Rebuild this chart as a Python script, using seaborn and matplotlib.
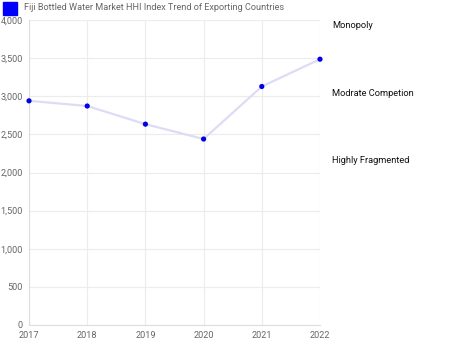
import matplotlib
matplotlib.use("Agg")
import matplotlib.pyplot as plt
import seaborn as sns
import pandas as pd
from matplotlib.ticker import FuncFormatter, MultipleLocator

years = [2017, 2018, 2019, 2020, 2021, 2022]
hhi = [2940, 2872, 2634, 2439, 3128, 3486]
zones = ["Monopoly", "Modrate Competion", "Highly Fragmented"]
title = "Fiji Bottled Water Market HHI Index Trend of Exporting Countries"

df = pd.DataFrame({"year": years, "hhi": hhi})

sns.set_theme(style="white")
plt.rcParams["font.family"] = ["Roboto", "DejaVu Sans"]

fig = plt.figure(figsize=(4.74, 3.45), dpi=100)
ax = fig.add_axes([29 / 474, 20 / 345, 291 / 474, 305 / 345])

sns.lineplot(data=df, x="year", y="hhi", ax=ax, color="#dcdcf6", linewidth=1.6,
             zorder=2)
sns.scatterplot(data=df, x="year", y="hhi", ax=ax, color="#0000e6", s=14,
                edgecolor="none", zorder=3, clip_on=False)

ax.set_xlim(2017, 2022)
ax.set_ylim(0, 4000)
ax.yaxis.set_major_locator(MultipleLocator(500))
ax.yaxis.set_major_formatter(FuncFormatter(lambda v, p: f"{int(v):,}"))
ax.set_xticks(years)
ax.set_xlabel("")
ax.set_ylabel("")
ax.grid(True, color="#ececec", linewidth=0.8)
ax.set_axisbelow(True)
for side in ["top", "right"]:
    ax.spines[side].set_visible(False)
for side in ["left", "bottom"]:
    ax.spines[side].set_color("#dddddd")
    ax.spines[side].set_linewidth(0.8)
ax.tick_params(axis="y", labelsize=6.6, colors="#666666", length=3,
               width=0.8, pad=1.5)
ax.tick_params(axis="x", labelsize=6.6, colors="#666666", length=3,
               width=0.8, pad=1.5)
ax.tick_params(axis="both", color="#dddddd")

# legend swatch and title
fig.patches.append(plt.Rectangle((3 / 474, 1 - 15 / 345), 14 / 474, 13 / 345,
                                 transform=fig.transFigure, color="#0000ff",
                                 figure=fig))
fig.text(24 / 474, 1 - 8 / 345, title, fontsize=6.6, color="#666666",
         va="center", ha="left")

# competition zone labels
for label, ypix in zip(zones, [25, 93, 160]):
    fig.text(332 / 474, 1 - ypix / 345, label, fontsize=6.7, color="#111111",
             va="center", ha="left")

fig.savefig("out.png", dpi=100)
